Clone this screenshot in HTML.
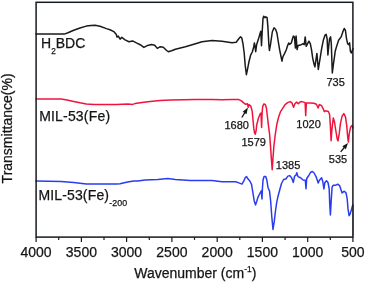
<!DOCTYPE html>
<html><head><meta charset="utf-8"><title>FTIR</title>
<style>
html,body{margin:0;padding:0;background:#fff;}
body{width:366px;height:283px;overflow:hidden;}
svg{display:block;font-family:"Liberation Sans",sans-serif;fill:#151515;}
.c{fill:none;stroke-width:1.5;stroke-linejoin:round;stroke-linecap:round;}
.ax{stroke:#161b20;stroke-width:1.5;fill:none;}
.tk{stroke:#161b20;stroke-width:1.2;}
.t14{font-size:14px;}
.t11{font-size:11px;}
text{stroke:#151515;stroke-width:0.25px;}
</style></head><body>
<svg width="366" height="283" viewBox="0 0 366 283">
<rect x="0" y="0" width="366" height="283" fill="#fff"/>
<path class="c" stroke="#1a1a1a" d="M36.0,34.1 L64.2,34.1 L68.0,32.8 L73.7,30.3 L80.0,28.0 L86.3,26.1 L91.0,25.4 L95.0,25.3 L100.0,26.3 L106.4,28.6 L110.0,29.8 L113.8,31.6 L116.3,34.6 L117.0,37.1 L118.3,36.1 L120.1,39.1 L121.8,37.4 L125.1,39.9 L128.9,41.7 L132.6,40.9 L136.4,42.9 L140.2,44.7 L143.9,47.4 L147.7,45.4 L151.5,44.4 L154.7,45.2 L157.3,48.4 L160.3,46.7 L163.3,47.2 L166.6,50.5 L168.3,51.7 L171.6,50.7 L175.4,49.2 L185.4,46.7 L195.5,43.7 L202.0,41.7 L212.0,40.5 L222.0,41.3 L232.0,42.7 L236.2,42.2 L238.8,38.8 L240.5,36.8 L241.8,38.0 L243.0,43.9 L244.2,53.0 L245.2,65.4 L246.4,74.7 L247.6,68.8 L248.9,62.0 L250.6,55.2 L252.3,52.0 L253.7,47.0 L254.4,43.0 L255.0,46.4 L255.7,51.7 L256.6,44.7 L258.3,39.6 L260.0,33.7 L260.8,31.2 L261.5,45.8 L262.2,32.0 L263.0,18.5 L263.7,16.3 L265.0,17.6 L265.9,16.8 L267.1,17.6 L267.9,26.9 L268.8,43.9 L269.4,50.5 L270.6,43.9 L272.3,32.0 L274.0,27.8 L275.7,29.5 L276.9,32.9 L278.1,40.5 L279.6,49.6 L281.1,57.0 L282.0,61.2 L282.8,57.0 L284.5,53.6 L286.2,50.0 L287.9,44.7 L288.7,43.0 L289.6,44.4 L291.3,43.0 L292.6,38.3 L293.4,36.1 L294.4,36.9 L295.4,48.0 L296.1,36.1 L297.1,49.6 L298.1,45.4 L300.5,45.1 L303.0,43.7 L304.2,44.6 L305.2,36.9 L306.2,46.3 L307.6,43.7 L308.9,41.2 L310.3,43.7 L311.5,49.6 L312.7,58.1 L314.0,64.0 L314.9,66.9 L316.9,53.4 L318.3,69.5 L320.0,59.0 L321.6,48.8 L323.3,40.3 L325.0,35.2 L326.2,34.4 L327.1,38.6 L327.9,54.9 L328.8,45.4 L329.6,38.6 L330.6,36.9 L331.3,43.7 L332.3,72.9 L333.5,63.6 L334.7,55.1 L335.2,51.3 L336.9,45.4 L338.6,40.3 L341.1,36.9 L342.8,31.9 L344.2,28.5 L345.4,30.2 L346.5,38.6 L347.6,43.7 L348.7,44.6 L349.6,42.9 L350.4,51.3 L351.3,53.0 L353.0,48.8"/>
<path class="c" stroke="#f0143c" d="M36.0,98.9 L61.1,98.9 L67.0,100.0 L73.7,101.4 L80.0,102.8 L86.3,103.9 L94.0,104.4 L101.4,104.6 L116.4,104.4 L128.0,104.1 L132.6,104.4 L135.0,103.6 L142.0,102.4 L150.2,101.4 L160.0,100.6 L170.3,100.1 L195.4,99.6 L212.0,99.4 L222.0,99.8 L232.2,99.6 L238.9,99.6 L241.5,100.9 L243.7,102.9 L245.7,104.3 L247.4,103.8 L248.3,107.2 L249.1,104.6 L250.8,106.0 L252.2,111.4 L253.0,119.9 L253.8,128.4 L254.5,132.6 L255.2,134.2 L256.1,130.8 L256.7,125.0 L258.4,118.2 L260.1,114.0 L261.0,113.1 L261.6,127.5 L262.1,113.1 L262.7,106.3 L264.0,103.8 L265.4,104.6 L266.4,108.0 L267.4,116.5 L268.6,126.7 L269.6,134.2 L270.5,146.0 L271.3,157.9 L272.2,169.7 L273.0,157.9 L273.9,146.0 L275.1,135.9 L276.4,127.0 L277.1,123.0 L278.8,116.5 L280.4,111.9 L282.5,108.6 L285.1,104.6 L287.6,102.6 L290.2,101.6 L291.9,102.9 L293.6,107.2 L294.9,103.8 L296.6,102.1 L298.3,103.8 L300.0,102.1 L302.0,101.6 L305.1,102.6 L305.7,115.6 L306.4,102.9 L310.5,102.9 L313.9,103.3 L316.4,104.3 L318.1,108.0 L319.3,104.6 L321.5,105.5 L323.2,108.9 L324.4,111.6 L325.7,110.8 L328.4,111.5 L329.6,114.6 L330.3,124.4 L331.1,140.8 L332.0,128.8 L333.3,117.9 L334.5,122.0 L335.8,130.5 L337.2,139.0 L338.0,141.0 L339.2,133.9 L340.4,123.7 L342.1,116.1 L343.8,113.6 L345.5,116.9 L346.7,125.4 L347.7,137.3 L348.4,142.1 L349.2,133.9 L350.6,127.1 L352.3,125.4 L353.1,128.0"/>
<path class="c" stroke="#2a3cf0" d="M36.0,181.1 L61.1,181.4 L73.7,182.6 L86.3,183.9 L101.4,184.1 L116.4,183.9 L120.0,183.7 L127.5,182.1 L133.8,180.9 L137.6,181.1 L145.1,180.1 L157.7,179.4 L167.8,178.4 L175.3,179.4 L190.4,180.6 L203.0,180.6 L212.0,180.4 L222.0,181.7 L235.6,181.7 L238.9,182.9 L242.0,184.1 L243.7,181.2 L245.4,177.3 L246.6,176.6 L247.7,178.6 L250.0,181.2 L251.6,184.6 L252.8,192.2 L254.2,200.7 L255.5,204.9 L256.8,201.2 L257.9,197.3 L260.1,193.0 L261.3,190.8 L262.0,199.0 L262.4,188.8 L263.0,180.3 L264.0,176.6 L265.7,176.6 L266.9,180.3 L268.1,188.0 L269.5,190.8 L270.6,200.5 L271.8,216.8 L273.0,229.5 L274.2,221.9 L275.6,210.0 L276.8,201.8 L277.9,196.8 L279.7,190.0 L281.5,183.5 L283.6,179.5 L285.8,179.0 L287.9,176.1 L289.6,175.6 L291.6,177.8 L293.3,182.4 L294.6,176.1 L296.0,175.2 L296.8,172.7 L298.0,176.6 L300.6,177.8 L303.1,180.0 L305.3,180.3 L306.0,188.7 L306.7,178.5 L308.8,175.5 L310.7,172.2 L312.4,171.5 L314.1,173.0 L316.3,177.2 L318.2,183.0 L319.4,180.3 L321.6,177.7 L322.8,181.5 L323.9,188.9 L324.8,182.8 L326.5,180.8 L328.1,182.8 L329.2,189.0 L329.7,203.5 L330.4,214.9 L331.2,200.6 L332.1,187.0 L333.3,185.3 L335.5,185.3 L337.7,184.2 L339.6,185.6 L340.9,189.5 L342.1,192.9 L344.3,191.2 L346.0,192.9 L347.2,198.8 L348.0,208.9 L349.1,215.7 L350.1,214.0 L351.4,209.8 L352.8,204.7"/>
<line x1="353.5" y1="205" x2="353.5" y2="236" stroke="#2a3cf0" stroke-width="1" opacity="0.6"/>
<rect class="ax" x="36.1" y="2.3" width="316.8" height="234.8"/>
<g class="tk"><line x1="36.1" y1="237.1" x2="36.1" y2="241.9"/><line x1="58.7" y1="237.1" x2="58.7" y2="239.9"/><line x1="81.4" y1="237.1" x2="81.4" y2="241.9"/><line x1="104.0" y1="237.1" x2="104.0" y2="239.9"/><line x1="126.6" y1="237.1" x2="126.6" y2="241.9"/><line x1="149.3" y1="237.1" x2="149.3" y2="239.9"/><line x1="171.9" y1="237.1" x2="171.9" y2="241.9"/><line x1="194.5" y1="237.1" x2="194.5" y2="239.9"/><line x1="217.2" y1="237.1" x2="217.2" y2="241.9"/><line x1="239.8" y1="237.1" x2="239.8" y2="239.9"/><line x1="262.4" y1="237.1" x2="262.4" y2="241.9"/><line x1="285.1" y1="237.1" x2="285.1" y2="239.9"/><line x1="307.7" y1="237.1" x2="307.7" y2="241.9"/><line x1="330.3" y1="237.1" x2="330.3" y2="239.9"/><line x1="352.9" y1="237.1" x2="352.9" y2="241.9"/></g>
<g class="t14"><text x="36.1" y="257" text-anchor="middle">4000</text><text x="81.4" y="257" text-anchor="middle">3500</text><text x="126.6" y="257" text-anchor="middle">3000</text><text x="171.9" y="257" text-anchor="middle">2500</text><text x="217.2" y="257" text-anchor="middle">2000</text><text x="262.4" y="257" text-anchor="middle">1500</text><text x="307.7" y="257" text-anchor="middle">1000</text><text x="352.9" y="257" text-anchor="middle">500</text>
<text x="41" y="48.4">H<tspan font-size="8.2" dy="5.6">2</tspan><tspan dy="-5.6">BDC</tspan></text>
<text x="39.2" y="121" letter-spacing="0.18">MIL-53(Fe)</text>
<text x="38.4" y="200.2" letter-spacing="0.15">MIL-53(Fe)<tspan font-size="8.8" dy="6.2">-200</tspan></text>
<text x="134.2" y="278.2">Wavenumber (cm<tspan font-size="8.5" dy="-6">-1</tspan><tspan dy="6">)</tspan></text>
<text transform="translate(11.8,183.4) rotate(-90)">Transmittance(%)</text>
</g>
<g class="t11">
<text x="326.4" y="85.6">735</text>
<text x="224.4" y="128.9">1680</text>
<text x="241.4" y="145.7">1579</text>
<text x="275.8" y="168.9">1385</text>
<text x="296.3" y="127.5">1020</text>
<text x="328.8" y="162.6">535</text>
</g>
<g stroke="#151515" stroke-width="1.3" fill="#151515">
<line x1="241.8" y1="117.5" x2="245" y2="112.3"/>
<polygon points="247.9,107.6 246.6,114.2 242.7,111.7" stroke="none"/>
<line x1="340.7" y1="151.9" x2="344.3" y2="147.5"/>
<polygon points="348,143 345.9,149.2 342.3,146.3" stroke="none"/>
</g>
</svg>
</body></html>
